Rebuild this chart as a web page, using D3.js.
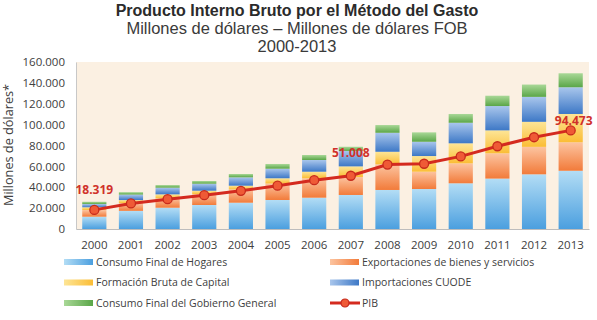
<!DOCTYPE html>
<html lang="es">
<head>
<meta charset="utf-8">
<title>PIB por el Método del Gasto</title>
<script src="https://d3js.org/d3.v7.min.js"></script>
<style>
  body { margin: 0; background: #fff; }
  text { font-family: "Open Sans", sans-serif; }
</style>
</head>
<body>
<script>
// Data (millones de dólares)
var years = ["2000","2001","2002","2003","2004","2005","2006","2007","2008","2009","2010","2011","2012","2013"];
var hogares      = [11800, 17400, 20400, 23000, 25200, 27800, 30000, 32600, 37400, 38300, 43800, 48300, 52400, 55800];
var exportaciones= [ 6400,  7400,  9000, 10500, 12800, 15800, 18600, 17200, 24600, 16600, 19100, 24200, 26300, 27300];
var formacion    = [ 2600,  2900,  3800,  3200,  3500,  5000,  6300, 10200, 12000, 15000, 19200, 22000, 24000, 27100];
var importaciones= [ 3100,  5300,  6400,  6700,  8000,  9200, 11200, 14800, 18200, 13700, 19700, 23300, 23900, 25600];
var gobierno     = [ 2200,  2300,  2500,  2600,  3200,  4500,  4800,  4000,  7400,  9000,  8400,  9900, 11800, 13400];
var pib          = [18319, 24468, 28549, 32433, 36592, 41507, 46802, 51008, 61763, 62520, 69555, 79277, 87925, 94473];
var yTicks = [0, 20000, 40000, 60000, 80000, 100000, 120000, 140000, 160000];
var seriesNames = ["Consumo Final de Hogares", "Exportaciones de bienes y servicios", "Formación Bruta de Capital",
                   "Importaciones CUODE", "Consumo Final del Gobierno General"];

var width = 597, height = 320;
var margin = { left: 76, right: 8, top: 62, bottom: 91 };

var svg = d3.select("body").append("svg")
  .attr("width", width).attr("height", height);

var defs = svg.append("defs");
var grads = [
  ["g0", "#b3ddf5", "#4b9fdf"],
  ["g1", "#fcc4a0", "#f27b3a"],
  ["g2", "#fde596", "#fbbd35"],
  ["g3", "#a9c6ec", "#3d78c6"],
  ["g4", "#a9d897", "#5aa648"]
];
grads.forEach(function(g) {
  var lg = defs.append("linearGradient").attr("id", g[0])
    .attr("x1", 0).attr("y1", 0).attr("x2", 0).attr("y2", 1);
  lg.append("stop").attr("offset", "0%").attr("stop-color", g[1]);
  lg.append("stop").attr("offset", "100%").attr("stop-color", g[2]);
});

var x = d3.scaleBand().domain(years)
  .range([margin.left, width - margin.right])
  .paddingInner(0.34).paddingOuter(0.17);
var y = d3.scaleLinear().domain([0, 160000])
  .range([height - margin.bottom, margin.top]);

// plot background
svg.append("rect")
  .attr("x", margin.left).attr("y", margin.top)
  .attr("width", width - margin.right - margin.left)
  .attr("height", height - margin.bottom - margin.top)
  .attr("fill", "#fbf0e2");

// titles
svg.append("text").attr("x", 297).attr("y", 16).attr("text-anchor", "middle")
  .style("font-family", "'Liberation Sans', Arial, sans-serif").style("font-weight", "bold")
  .style("font-size", "16px").attr("fill", "#2b2b2b")
  .text("Producto Interno Bruto por el Método del Gasto");
svg.append("text").attr("x", 297).attr("y", 34).attr("text-anchor", "middle")
  .style("font-family", "'Liberation Sans', Arial, sans-serif")
  .style("font-size", "16.5px").attr("fill", "#3a3a3a")
  .text("Millones de dólares – Millones de dólares FOB");
svg.append("text").attr("x", 297).attr("y", 52).attr("text-anchor", "middle")
  .style("font-family", "'Liberation Sans', Arial, sans-serif")
  .style("font-size", "16.5px").attr("fill", "#3a3a3a")
  .text("2000-2013");

// stacked bars
var table = years.map(function(yr, i) {
  return { year: yr, s0: hogares[i], s1: exportaciones[i], s2: formacion[i], s3: importaciones[i], s4: gobierno[i] };
});
var stack = d3.stack().keys(["s0", "s1", "s2", "s3", "s4"]);
var layers = stack(table);

svg.selectAll("g.layer")
  .data(layers)
  .enter().append("g")
  .attr("class", "layer")
  .attr("fill", function(d, i) { return "url(#g" + i + ")"; })
  .selectAll("rect")
  .data(function(d) { return d; })
  .enter().append("rect")
  .attr("x", function(d) { return x(d.data.year); })
  .attr("y", function(d) { return y(d[1]); })
  .attr("width", x.bandwidth())
  .attr("height", function(d) { return y(d[0]) - y(d[1]); });

// axes
var yAxis = svg.append("g")
  .attr("transform", "translate(" + margin.left + ",0)")
  .call(d3.axisLeft(y).tickValues(yTicks).tickSize(0).tickPadding(11)
    .tickFormat(function(d) { return d3.format(",")(d).replace(/,/g, "."); }));
yAxis.select(".domain").attr("stroke", "#c8c8c8");
yAxis.selectAll("text").style("font-size", "11.5px").attr("fill", "#404040");

var xAxis = svg.append("g")
  .attr("transform", "translate(0," + (height - margin.bottom) + ")")
  .call(d3.axisBottom(x).tickSize(0).tickPadding(12));
xAxis.select(".domain").attr("stroke", "#bdbdbd");
xAxis.selectAll("text").style("font-size", "11.5px").attr("fill", "#404040");

svg.append("text")
  .attr("transform", "translate(13," + 145 + ") rotate(-90)")
  .attr("text-anchor", "middle")
  .style("font-size", "12.7px").attr("fill", "#404040")
  .text("Millones de dólares*");

// PIB line
var line = d3.line()
  .x(function(d, i) { return x(years[i]) + x.bandwidth() / 2; })
  .y(function(d) { return y(d); });
svg.append("path").datum(pib)
  .attr("d", line).attr("fill", "none")
  .attr("stroke", "#d42a1f").attr("stroke-width", 3);
svg.selectAll("circle.pib").data(pib).enter().append("circle")
  .attr("class", "pib")
  .attr("cx", function(d, i) { return x(years[i]) + x.bandwidth() / 2; })
  .attr("cy", function(d) { return y(d); })
  .attr("r", 4.5)
  .attr("fill", "#ef5a36").attr("stroke", "#c72a1c").attr("stroke-width", 1.3);

var labelled = [[0, -16], [7, -19], [13, -5]];
labelled.forEach(function(l) {
  var i = l[0];
  svg.append("text")
    .attr("x", x(years[i]) + x.bandwidth() / 2 + (i === 13 ? 3 : 0))
    .attr("y", y(pib[i]) + l[1])
    .attr("text-anchor", "middle")
    .style("font-size", "12px").style("font-weight", "bold")
    .attr("fill", "#d0312a")
    .text(d3.format(",")(pib[i]).replace(/,/g, "."));
});

// legend
var legendItems = [
  { name: seriesNames[0], fill: "url(#h0)", col: 0, row: 0 },
  { name: seriesNames[1], fill: "url(#h1)", col: 1, row: 0 },
  { name: seriesNames[2], fill: "url(#h2)", col: 0, row: 1 },
  { name: seriesNames[3], fill: "url(#h3)", col: 1, row: 1 },
  { name: seriesNames[4], fill: "url(#h4)", col: 0, row: 2 },
  { name: "PIB", line: true, col: 1, row: 2 }
];
grads.forEach(function(g, i) {
  var lg = defs.append("linearGradient").attr("id", "h" + i)
    .attr("x1", 0).attr("y1", 0).attr("x2", 1).attr("y2", 0);
  lg.append("stop").attr("offset", "0%").attr("stop-color", g[1]);
  lg.append("stop").attr("offset", "100%").attr("stop-color", g[2]);
});
var legend = svg.selectAll("g.leg").data(legendItems).enter().append("g")
  .attr("class", "leg")
  .attr("transform", function(d) {
    return "translate(" + (d.col ? 330 : 64) + "," + (262 + d.row * 20.5) + ")";
  });
legend.each(function(d) {
  var g = d3.select(this);
  if (d.line) {
    g.append("line").attr("x1", 0).attr("x2", 30).attr("y1", 0).attr("y2", 0)
      .attr("stroke", "#d42a1f").attr("stroke-width", 3);
    g.append("circle").attr("cx", 15).attr("cy", 0).attr("r", 4)
      .attr("fill", "#ef5a36").attr("stroke", "#c72a1c").attr("stroke-width", 1.2);
  } else {
    g.append("rect").attr("x", 0).attr("y", -3).attr("width", 29).attr("height", 6)
      .attr("fill", d.fill);
  }
  g.append("text").attr("x", 32).attr("y", 0).attr("dy", "0.35em")
    .style("font-size", "10.5px").attr("fill", "#404040").text(d.name);
});
</script>
</body>
</html>
